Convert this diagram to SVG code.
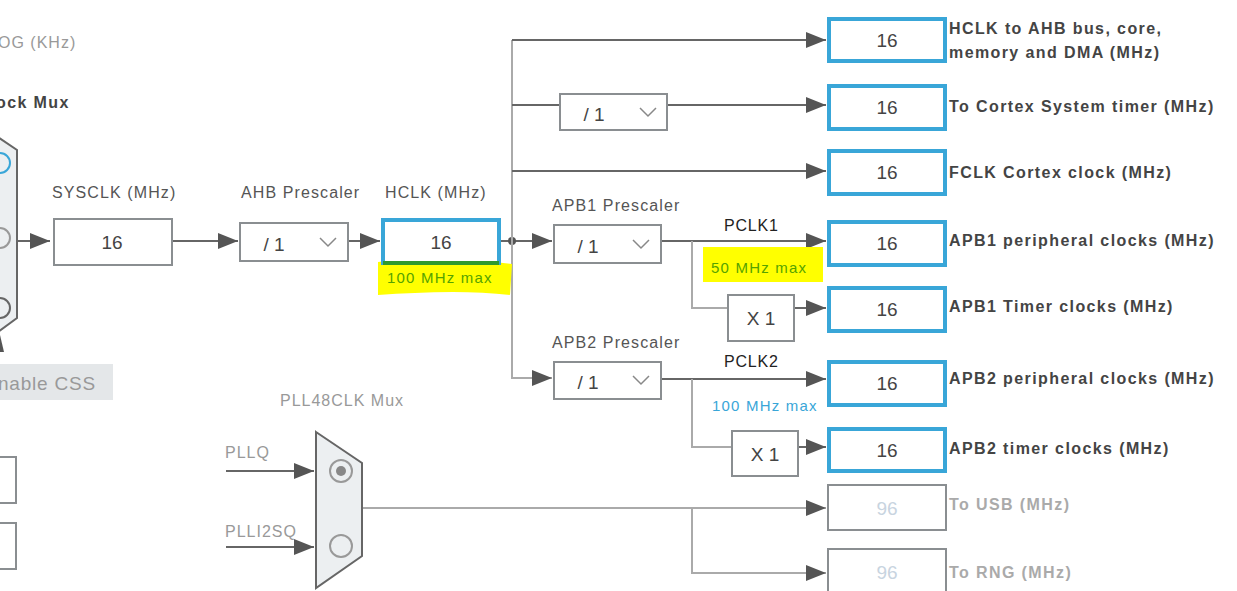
<svg xmlns="http://www.w3.org/2000/svg" width="1237" height="591" viewBox="0 0 1237 591">
<style>
text{font-family:"Liberation Sans",Arial,sans-serif;}
.lbl{font-size:16px;fill:#555;letter-spacing:1.1px;}
.lblg{font-size:16px;fill:#999;letter-spacing:1px;}
.out{font-size:16px;fill:#444;font-weight:bold;letter-spacing:1.4px;}
.outg{font-size:16px;fill:#aaa;font-weight:bold;letter-spacing:1.4px;}
.val{font-size:19px;fill:#444;text-anchor:middle;}
.valg{font-size:19px;fill:#c8d4e0;text-anchor:middle;}
.box{fill:#fff;stroke:#8a8e91;stroke-width:2;}
.bbox{fill:#fff;stroke:#39a6d8;stroke-width:4;}
.ln{fill:none;stroke:#666;stroke-width:2;}
.lng{fill:none;stroke:#aaa;stroke-width:2;}
.chev{fill:none;stroke:#888;stroke-width:1.5;}
.max{font-size:15px;letter-spacing:1.2px;}
</style>
<defs>
<marker id="arb" markerWidth="22" markerHeight="16" refX="20" refY="8" orient="auto" markerUnits="userSpaceOnUse"><path d="M0,0 L20,8 L0,16 z" fill="#555"/></marker>
</defs>
<rect width="1237" height="591" fill="#fff"/>
<text x="-2" y="48" class="lblg" font-size="17">OG (KHz)</text>
<text x="-4" y="108" class="out">ock Mux</text>
<g id="sysmux">
<path d="M-20,125 L17,150 L17,318 L-20,345 Z" fill="#eceff1" stroke="#666" stroke-width="2"/>
<circle cx="0" cy="163" r="10" fill="none" stroke="#39a6d8" stroke-width="2"/>
<circle cx="0" cy="238" r="10" fill="none" stroke="#999" stroke-width="2"/>
<circle cx="0" cy="308" r="10" fill="none" stroke="#666" stroke-width="2"/>
<path d="M0,335 L4,352 L-4,352 Z" fill="#555"/>
</g>
<g id="css"><rect x="-5" y="364" width="118" height="36" fill="#e4e7e9"/><text x="-2" y="390" font-size="19" fill="#999" letter-spacing="0.8">nable CSS</text></g>
<g id="leftboxes"><rect x="-10" y="457" width="26" height="46" class="box"/><rect x="-10" y="523" width="26" height="46" class="box"/></g>
<g id="connectors">
<line x1="17" y1="241" x2="50" y2="241" class="ln" marker-end="url(#arb)"/>
<line x1="172" y1="241" x2="238" y2="241" class="ln" marker-end="url(#arb)"/>
<line x1="348" y1="241" x2="380" y2="241" class="ln" marker-end="url(#arb)"/>
<line x1="499" y1="241" x2="552" y2="241" class="ln" marker-end="url(#arb)"/>
<circle cx="512" cy="241" r="4" fill="#555"/>
<path d="M512,40 L512,378 L552,378" class="lng" marker-end="url(#arb)"/>
<line x1="512" y1="40" x2="826" y2="40" class="ln" marker-end="url(#arb)"/>
<line x1="512" y1="105" x2="560" y2="105" class="ln"/>
<line x1="667" y1="105" x2="826" y2="105" class="ln" marker-end="url(#arb)"/>
<line x1="512" y1="171" x2="826" y2="171" class="ln" marker-end="url(#arb)"/>
<line x1="661" y1="241" x2="826" y2="241" class="ln" marker-end="url(#arb)"/>
<path d="M692,241 L692,308 L728,308" class="lng"/>
<line x1="794" y1="308" x2="826" y2="308" class="ln" marker-end="url(#arb)"/>
<line x1="661" y1="379" x2="826" y2="379" class="ln" marker-end="url(#arb)"/>
<path d="M692,379 L692,447 L732,447" class="lng"/>
<line x1="798" y1="447" x2="826" y2="447" class="ln" marker-end="url(#arb)"/>
<line x1="226" y1="471" x2="314" y2="471" class="ln" marker-end="url(#arb)"/>
<line x1="226" y1="547" x2="314" y2="547" class="ln" marker-end="url(#arb)"/>
<line x1="362" y1="508" x2="826" y2="508" class="lng" marker-end="url(#arb)"/>
<path d="M692,508 L692,573 L826,573" class="lng" marker-end="url(#arb)"/>
</g>
<g id="sysclk"><text x="52" y="198" class="lbl">SYSCLK (MHz)</text><rect x="54" y="219" width="118" height="46" class="box"/><text x="112" y="249" class="val">16</text></g>
<g id="ahb"><text x="241" y="198" class="lbl">AHB Prescaler</text><rect x="240" y="223" width="108" height="38" class="box"/><text x="274" y="251" class="val">/ 1</text><path d="M320,238 L328,246 L336,238" class="chev"/></g>
<g id="hclk"><text x="385" y="198" class="lbl">HCLK (MHz)</text><path d="M378,262 C420,256 470,258 512,264 L510,295 C470,290 420,292 378,295 Z" fill="#ffff00"/><rect x="383" y="220" width="116" height="43" class="bbox"/><line x1="383" y1="263" x2="499" y2="263" stroke="#2e9a2e" stroke-width="4"/><text x="441" y="249" class="val">16</text><text x="387" y="283" class="max" fill="#55a300">100 MHz max</text></g>
<g id="systimer_div"><rect x="560" y="94" width="107" height="36" class="box"/><text x="594" y="121" class="val">/ 1</text><path d="M640,108 L648,116 L656,108" class="chev"/></g>
<g id="apb1"><text x="552" y="211" class="lbl">APB1 Prescaler</text><rect x="554" y="225" width="107" height="38" class="box"/><text x="588" y="253" class="val">/ 1</text><path d="M633,240 L641,248 L649,240" class="chev"/></g>
<g id="apb2"><text x="552" y="348" class="lbl">APB2 Prescaler</text><rect x="554" y="362" width="107" height="37" class="box"/><text x="588" y="389" class="val">/ 1</text><path d="M633,376 L641,384 L649,376" class="chev"/></g>
<g id="pclk1"><text x="724" y="231" font-size="16" fill="#222" letter-spacing="0.8">PCLK1</text><rect x="703" y="247" width="120" height="35" fill="#ffff00"/><text x="711" y="273" class="max" fill="#55a300">50 MHz max</text></g>
<g id="pclk2"><text x="724" y="367" font-size="16" fill="#222" letter-spacing="0.8">PCLK2</text><text x="712" y="411" class="max" fill="#39a6d8">100 MHz max</text></g>
<g id="x1a"><rect x="728" y="295" width="66" height="46" class="box"/><text x="761" y="325" class="val">X 1</text></g>
<g id="x1b"><rect x="732" y="431" width="66" height="45" class="box"/><text x="765" y="461" class="val">X 1</text></g>
<g id="pll48mux"><text x="280" y="406" class="lblg">PLL48CLK Mux</text><text x="225" y="458" class="lblg">PLLQ</text><text x="225" y="537" class="lblg">PLLI2SQ</text><path d="M316,432 L362,463 L362,556 L316,588 Z" fill="#eceff1" stroke="#666" stroke-width="2"/><circle cx="341" cy="471" r="11" fill="none" stroke="#999" stroke-width="2"/><circle cx="341" cy="471" r="5" fill="#888"/><circle cx="341" cy="546" r="11" fill="none" stroke="#999" stroke-width="2"/></g>
<g id="o1"><rect x="829" y="19" width="116" height="42" class="bbox"/><text x="887" y="47" class="val">16</text><text x="949" y="34" class="out">HCLK to AHB bus, core,</text><text x="949" y="58" class="out">memory and DMA (MHz)</text></g>
<g id="o2"><rect x="829" y="86" width="116" height="43" class="bbox"/><text x="887" y="114" class="val">16</text><text x="949" y="112" class="out">To Cortex System timer (MHz)</text></g>
<g id="o3"><rect x="829" y="151" width="116" height="43" class="bbox"/><text x="887" y="179" class="val">16</text><text x="949" y="178" class="out">FCLK Cortex clock (MHz)</text></g>
<g id="o4"><rect x="829" y="222" width="116" height="43" class="bbox"/><text x="887" y="250" class="val">16</text><text x="949" y="246" class="out">APB1 peripheral clocks (MHz)</text></g>
<g id="o5"><rect x="829" y="288" width="116" height="43" class="bbox"/><text x="887" y="316" class="val">16</text><text x="949" y="312" class="out">APB1 Timer clocks (MHz)</text></g>
<g id="o6"><rect x="829" y="362" width="116" height="43" class="bbox"/><text x="887" y="390" class="val">16</text><text x="949" y="384" class="out">APB2 peripheral clocks (MHz)</text></g>
<g id="o7"><rect x="829" y="429" width="116" height="42" class="bbox"/><text x="887" y="457" class="val">16</text><text x="949" y="454" class="out">APB2 timer clocks (MHz)</text></g>
<g id="o8"><rect x="828" y="485" width="118" height="45" class="box"/><text x="887" y="515" class="valg">96</text><text x="949" y="510" class="outg">To USB (MHz)</text></g>
<g id="o9"><rect x="828" y="549" width="118" height="50" class="box"/><text x="887" y="579" class="valg">96</text><text x="949" y="578" class="outg">To RNG (MHz)</text></g>
</svg>
